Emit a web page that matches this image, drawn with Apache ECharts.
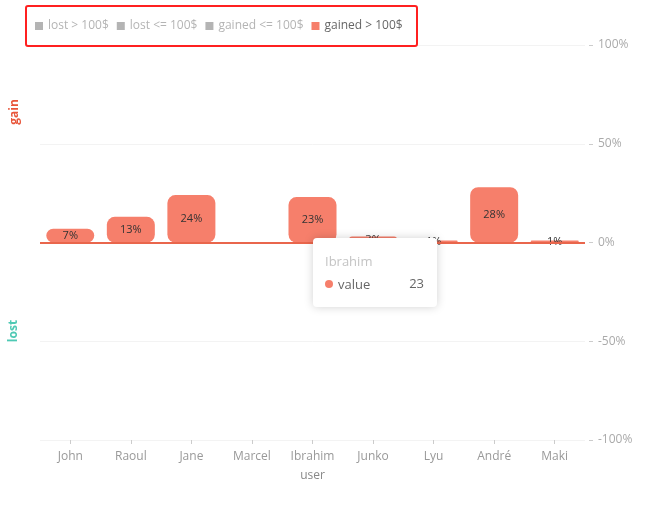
<!DOCTYPE html>
<html>
<head>
<meta charset="utf-8">
<script src="https://cdn.jsdelivr.net/npm/echarts@6/dist/echarts.min.js"></script>
<style>
  html, body { margin: 0; padding: 0; background: #fff; }
  #wrap { position: relative; width: 660px; height: 509px; }
  #chart { position: absolute; left: 0; top: 0; width: 660px; height: 509px; }
  .anno { position: absolute; border: 2px solid #ff2020; border-radius: 3px; box-sizing: border-box; pointer-events: none; z-index: 99999; }
</style>
</head>
<body>
<div id="wrap">
  <div id="chart"></div>
  <div class="anno" style="left:25px;top:5px;width:393px;height:42px;"></div>
  <div class="anno" style="left:318px;top:266px;width:64px;height:34px;"></div>
</div>
<script>
const users = ['John', 'Raoul', 'Jane', 'Marcel', 'Ibrahim', 'Junko', 'Lyu', 'André', 'Maki'];
const seriesNames = ['lost > 100$', 'lost <= 100$', 'gained <= 100$', 'gained > 100$'];
const gainedOver100 = [7, 13, 24, null, 23, 3, 1, 28, 1];
const yTicks = [-100, -50, 0, 50, 100];
const FONT = 'Open Sans';

const chart = echarts.init(document.getElementById('chart'), null, { renderer: 'canvas' });

const series = seriesNames.map(function (name, i) {
  const isMain = i === 3;
  const s = {
    name: name,
    type: 'bar',
    stack: 'all',
    barWidth: 48,
    data: isMain ? gainedOver100 : [],
    itemStyle: { color: '#f67f6b', borderRadius: 8 },
    label: {
      show: true,
      position: 'inside',
      formatter: '{c}%',
      color: '#333',
      fontSize: 11,
      fontFamily: FONT
    }
  };
  if (isMain) {
    s.markLine = {
      silent: true,
      symbol: ['none', 'none'],
      label: { show: false },
      lineStyle: { color: '#e9664c', width: 2, type: 'solid' },
      data: [{ yAxis: 0 }],
      animation: false
    };
  }
  return s;
});

const selected = {};
seriesNames.forEach(function (n, i) { selected[n] = i === 3; });

chart.setOption({
  animation: false,
  textStyle: { fontFamily: FONT },
  legend: {
    data: seriesNames,
    selected: selected,
    left: 30,
    top: 15,
    icon: 'rect',
    itemWidth: 8,
    itemHeight: 8,
    itemGap: 8,
    inactiveColor: '#b4b4b4',
    textStyle: { fontSize: 12, color: '#666', fontFamily: FONT }
  },
  grid: { left: 40, right: 75, top: 45, bottom: 69, containLabel: false },
  xAxis: {
    type: 'category',
    data: users,
    position: 'bottom',
    name: 'user',
    nameLocation: 'middle',
    nameGap: 30,
    nameTextStyle: { color: '#888', fontSize: 12, fontFamily: FONT },
    axisLine: { show: false, onZero: false },
    axisTick: { show: true, alignWithLabel: true, length: 4, lineStyle: { color: '#ccc' } },
    axisLabel: { color: '#999', fontSize: 12, margin: 11, fontFamily: FONT },
    splitLine: { show: false }
  },
  yAxis: {
    type: 'value',
    position: 'right',
    min: yTicks[0],
    max: yTicks[yTicks.length - 1],
    interval: 50,
    offset: 4,
    axisLine: { show: false },
    axisTick: { show: true, length: 4, lineStyle: { color: '#ccc' } },
    axisLabel: { formatter: '{value}%', color: '#aaa', fontSize: 12, margin: 9, fontFamily: FONT },
    splitLine: { show: true, lineStyle: { color: '#f3f3f3', width: 1 } }
  },
  tooltip: {
    trigger: 'item',
    triggerOn: 'none',
    alwaysShowContent: true,
    transitionDuration: 0,
    position: [313, 238],
    backgroundColor: '#fff',
    borderColor: '#fff',
    borderWidth: 0,
    padding: [13, 13, 13, 12],
    extraCssText: 'box-shadow: 0 0 10px rgba(0,0,0,0.18); border-radius: 4px; width: 99px;',
    formatter: function (p) {
      return '<div style="font-family:' + FONT + ';">' +
        '<div style="color:#c4c4c4;font-size:13px;line-height:21px;">' + p.name + '</div>' +
        '<div style="display:flex;justify-content:space-between;align-items:center;line-height:20px;font-size:13px;color:#666;">' +
        '<span><span style="display:inline-block;width:8px;height:8px;border-radius:50%;background:#f67f6b;margin-right:5px;vertical-align:middle;"></span>' +
        '<span style="vertical-align:middle;">value</span></span>' +
        '<span>' + p.value + '</span></div></div>';
    }
  },
  graphic: [
    {
      type: 'text',
      x: 15, y: 112,
      rotation: Math.PI / 2,
      style: { text: 'gain', fill: '#e8553a', font: 'bold 12px ' + FONT, align: 'center', verticalAlign: 'middle' }
    },
    {
      type: 'text',
      x: 14, y: 331,
      rotation: Math.PI / 2,
      style: { text: 'lost', fill: '#4ec9b4', font: 'bold 12px ' + FONT, align: 'center', verticalAlign: 'middle' }
    }
  ],
  series: series
});

chart.dispatchAction({ type: 'showTip', seriesIndex: 3, dataIndex: 4 });
</script>
</body>
</html>
